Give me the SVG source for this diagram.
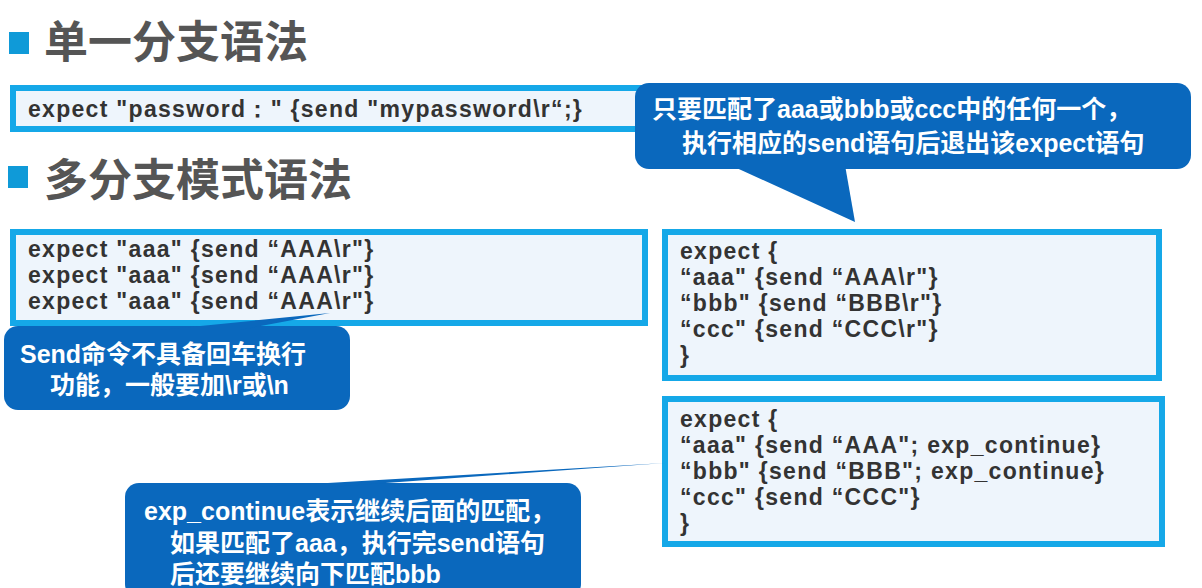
<svg xmlns="http://www.w3.org/2000/svg" width="1202" height="588" viewBox="0 0 1202 588">
<style>
.h{font-family:"Noto Sans CJK SC","Liberation Sans",sans-serif;font-weight:bold;font-size:44px;fill:#555}
.sq{fill:#0f9ad8}
.box{fill:#eef5fc;stroke:#15a8e8;stroke-width:6}
.code{font-family:"Liberation Sans",Arial,sans-serif;font-weight:bold;font-size:23px;letter-spacing:1.3px;fill:#333}
.call{fill:#0a68bd}
.ct{font-family:"Liberation Sans","Noto Sans CJK SC",sans-serif;font-weight:bold;font-size:25px;fill:#fff}
</style>
<rect width="1202" height="588" fill="#fff"/>
<g id="title1"><rect class="sq" x="9" y="32" width="20" height="22"/><text class="h" x="44" y="58">单一分支语法</text></g>
<g id="box1"><rect class="box" x="13" y="88" width="627" height="41"/><text class="code" x="28" y="117">expect "password：" {send "mypassword\r“;}</text></g>
<g id="title2"><rect class="sq" x="8" y="166" width="20" height="22"/><text class="h" x="44" y="196">多分支模式语法</text></g>
<g id="box2"><rect class="box" x="13" y="232" width="632" height="91"/>
<text class="code" x="28" y="257">expect "aaa" {send “AAA\r"}</text>
<text class="code" x="28" y="283">expect "aaa" {send “AAA\r"}</text>
<text class="code" x="28" y="309">expect "aaa" {send “AAA\r"}</text></g>
<g id="box3"><rect class="box" x="665" y="232" width="494" height="146"/>
<text class="code" x="680" y="259">expect {</text>
<text class="code" x="680" y="285">“aaa" {send “AAA\r"}</text>
<text class="code" x="680" y="311">“bbb" {send “BBB\r"}</text>
<text class="code" x="680" y="337">“ccc" {send “CCC\r"}</text>
<text class="code" x="680" y="363">}</text></g>
<g id="box4"><rect class="box" x="665" y="399" width="497" height="145"/>
<text class="code" x="680" y="427">expect {</text>
<text class="code" x="680" y="453">“aaa" {send “AAA"; exp_continue}</text>
<text class="code" x="680" y="479">“bbb" {send “BBB"; exp_continue}</text>
<text class="code" x="680" y="505">“ccc" {send “CCC"}</text>
<text class="code" x="680" y="531">}</text></g>
<g id="callout1"><rect class="call" x="4" y="326" width="346" height="84" rx="14"/><path class="call" d="M160 330 L330 313 L240 330 Z"/>
<text class="ct" x="20" y="363">Send命令不具备回车换行</text><text class="ct" x="50" y="394">功能，一般要加\r或\n</text></g>
<g id="callout2"><rect class="call" x="635" y="83" width="556" height="86" rx="14"/><path class="call" d="M730 165 L855 222 L845 165 Z"/>
<text class="ct" x="652" y="118">只要匹配了aaa或bbb或ccc中的任何一个，</text><text class="ct" x="682" y="152">执行相应的send语句后退出该expect语句</text></g>
<g id="callout3"><rect class="call" x="125" y="483" width="456" height="115" rx="14"/><path class="call" d="M260 487 L665 463 L330 487 Z"/>
<text class="ct" x="144" y="520">exp_continue表示继续后面的匹配，</text><text class="ct" x="170" y="552">如果匹配了aaa，执行完send语句</text><text class="ct" x="170" y="583">后还要继续向下匹配bbb</text></g>
</svg>
